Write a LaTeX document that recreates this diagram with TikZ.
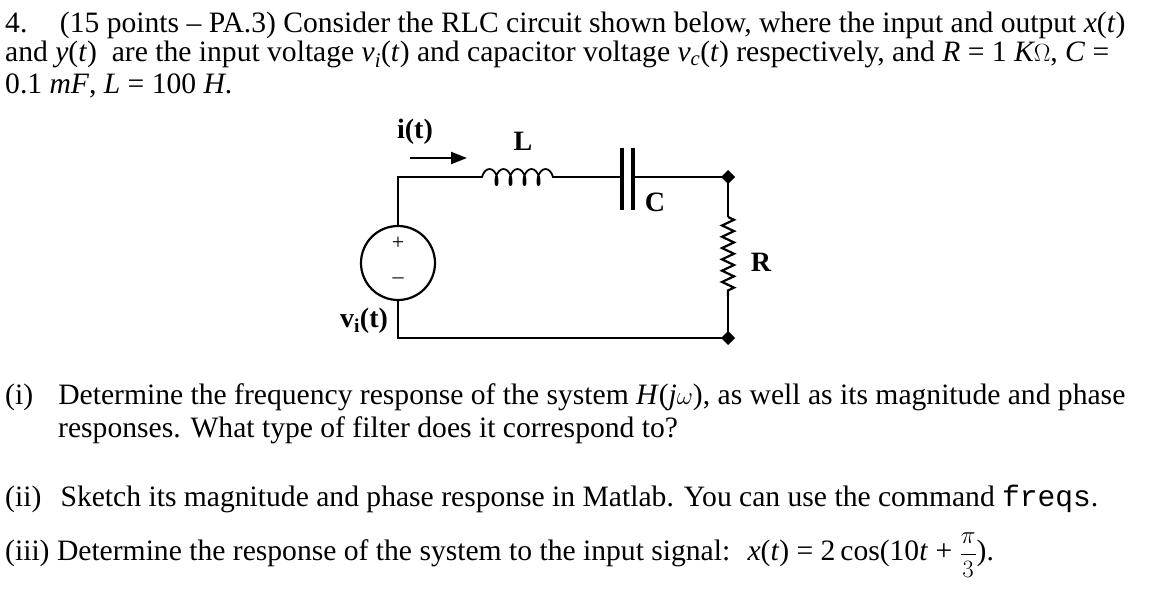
\documentclass[tikz,border=0pt]{standalone}
\usepackage{fontspec}
\setmainfont{Liberation Serif}
\newfontfamily\monof{Liberation Mono}
\usetikzlibrary{decorations.pathmorphing,arrows.meta,shapes.geometric}
\begin{document}
\begin{tikzpicture}[x=1pt,y=-1pt,
  txt/.style={anchor=base west,inner sep=0,font=\fontsize{29.6}{33}\selectfont},
  lbl/.style={inner sep=0,font=\fontsize{28}{30}\selectfont\bfseries},
  wire/.style={line width=2.2pt},
  termdot/.style={fill=black}]
\useasboundingbox (0,0) rectangle (1149,593);
\node[txt] (l1) at (5,33) {4.\hspace{1.1em}(15 points -- PA.3) Consider the RLC circuit shown below, where the input and output \textit{x}(\textit{t})};
\node[txt] (l2) at (5,62) {and \textit{y}(\textit{t}) \ are the input voltage \textit{v\textsubscript{i}}(\textit{t}) and capacitor voltage \textit{v\textsubscript{c}}(\textit{t}) respectively, and \textit{R} = 1 \textit{K$\Omega$}, \textit{C} =};
\node[txt] (l3) at (5,94) {0.1 \textit{mF}, \textit{L} = 100 \textit{H}.};
% circuit
\coordinate (tl) at (398,177);
\coordinate (bl) at (398,338);
\coordinate (tr) at (728,177);
\coordinate (br) at (728,338);
\node[circle,draw,line width=2.2pt,minimum size=74pt,inner sep=0] (src) at (398,263) {};
\node[font=\fontsize{22}{22}\selectfont] (plus) at (398,243) {+};
\node[font=\fontsize{22}{22}\selectfont] (minus) at (398,281) {--};
\coordinate (ls) at (478,177);
\coordinate (le) at (558,177);
\coordinate (c1) at (622,177);
\coordinate (c2) at (633,177);
\coordinate (rs) at (728,217);
\coordinate (re) at (728,296);
\draw[wire] (src.north) -- (tl) -- (ls);
\draw[line width=1.8pt,decorate,decoration={coil,aspect=0.5,segment length=14pt,amplitude=8pt,pre length=4pt,post length=4pt}] (ls) -- (le);
\draw[wire] (le) -- (c1);
\draw[line width=3.2pt] (622,148) -- (622,210) (633,148) -- (633,210);
\draw[wire] (c2) -- (tr) -- (rs);
\draw[wire,decorate,decoration={zigzag,amplitude=6pt,segment length=11.3pt}] (rs) -- (re);
\draw[wire] (re) -- (br) -- (bl) -- (src.south);
\fill[termdot] (tr) ++(0,-7) -- ++(7,7) -- ++(-7,7) -- ++(-7,-7) -- cycle;
\fill[termdot] (br) ++(0,-7) -- ++(7,7) -- ++(-7,7) -- ++(-7,-7) -- cycle;
\coordinate (a1) at (410,158);
\coordinate (a2) at (467,158);
\draw[wire,-{Triangle[length=16pt,width=12pt]}] (a1) -- (a2);
\node[lbl] (it) at (415,132) {i(t)};
\node[lbl] (L) at (523,141) {L};
\node[lbl] (C) at (655,202) {C};
\node[lbl] (R) at (761,262) {R};
\node[lbl] (vi) at (364,321) {v\textsubscript{i}(t)};
% questions
\node[txt] (q1) at (5,405) {(i)\hspace{0.6em} Determine the frequency response of the system \textit{H}(\textit{j$\omega$}), as well as its magnitude and phase};
\node[txt] (q1b) at (58,438) {responses. What type of filter does it correspond to?};
\node[txt] (q2) at (5,507) {(ii)\hspace{0.4em} Sketch its magnitude and phase response in Matlab. You can use the command {\monof freqs}.};
\node[txt] (q3) at (5,560) {(iii) Determine the response of the system to the input signal: \ \textit{x}(\textit{t}) = 2\,cos(10\textit{t} + $\displaystyle\frac{\pi}{3}$).};
\end{tikzpicture}
\end{document}
